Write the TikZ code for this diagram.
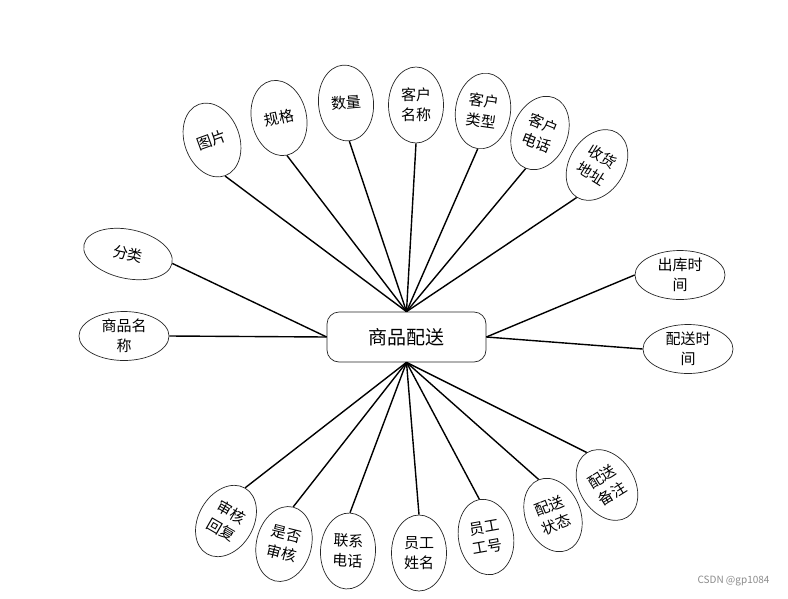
\documentclass[tikz,border=0pt]{standalone}
\usepackage{fontspec}
\setmainfont{Noto Sans CJK SC}
\usetikzlibrary{shapes.geometric}
\begin{document}
\begin{tikzpicture}[x=1pt,y=-1pt,
  attr/.style={draw=black!85, ellipse, line width=0.7pt, minimum width=55pt, minimum height=76pt,
    inner sep=0pt, align=center, font=\fontsize{15}{20}\selectfont},
  hattr/.style={attr, minimum width=90pt, minimum height=49pt},
  link/.style={line width=1.4pt},
  hub/.style={draw=black!85, line width=0.7pt, rounded corners=12pt, minimum width=159pt,
    minimum height=50pt, inner sep=0pt, font=\fontsize{19}{22}\selectfont}]
\useasboundingbox[fill=white] (0,0) rectangle (788,598);

\node[hub] (c) at (406.5,337) {商品配送};

% top
\node[attr, rotate=20] (a1) at (212,140) {图片};
\node[attr, rotate=12] (a2) at (279,118) {规格};
\node[attr, rotate=5] (a3) at (346,103) {数量};
\node[attr] (a4) at (416,105) {客户\\名称};
\node[attr, rotate=-8] (a5) at (483,111) {客户\\类型};
\node[attr, rotate=-22] (a6) at (540,133) {客户\\电话};
\node[attr, rotate=-32] (a7) at (597,165) {收货\\地址};

% left
\node[hattr, rotate=-12] (l1) at (128,254) {分类};
\node[hattr] (l2) at (124,336) {商品名\\称};

% right
\node[hattr] (r1) at (680,275) {出库时\\间};
\node[hattr] (r2) at (688,349) {配送时\\间};

% bottom
\node[attr, rotate=-30] (b1) at (226,521) {审核\\回复};
\node[attr, rotate=-14] (b2) at (284,544) {是否\\审核};
\node[attr, rotate=-3] (b3) at (348,551) {联系\\电话};
\node[attr] (b4) at (419,553) {员工\\姓名};
\node[attr, rotate=10] (b5) at (486,537) {员工\\工号};
\node[attr, rotate=22] (b6) at (553,515) {配送\\状态};
\node[attr, rotate=32] (b7) at (607,485) {配送\\备注};

\foreach \n in {a1,a2,a3,a4,a5,a6,a7} \draw[link] (c.north) -- (\n.south);
\foreach \n in {b1,b2,b3,b4,b5,b6,b7} \draw[link] (c.south) -- (\n.north);
\foreach \n in {l1,l2} \draw[link] (c.west) -- (\n.east);
\foreach \n in {r1,r2} \draw[link] (c.east) -- (\n.west);

\node[text=black!45, font=\fontsize{10}{12}\selectfont, anchor=east] (wm) at (773,581) {CSDN @gp1084};
\end{tikzpicture}
\end{document}
